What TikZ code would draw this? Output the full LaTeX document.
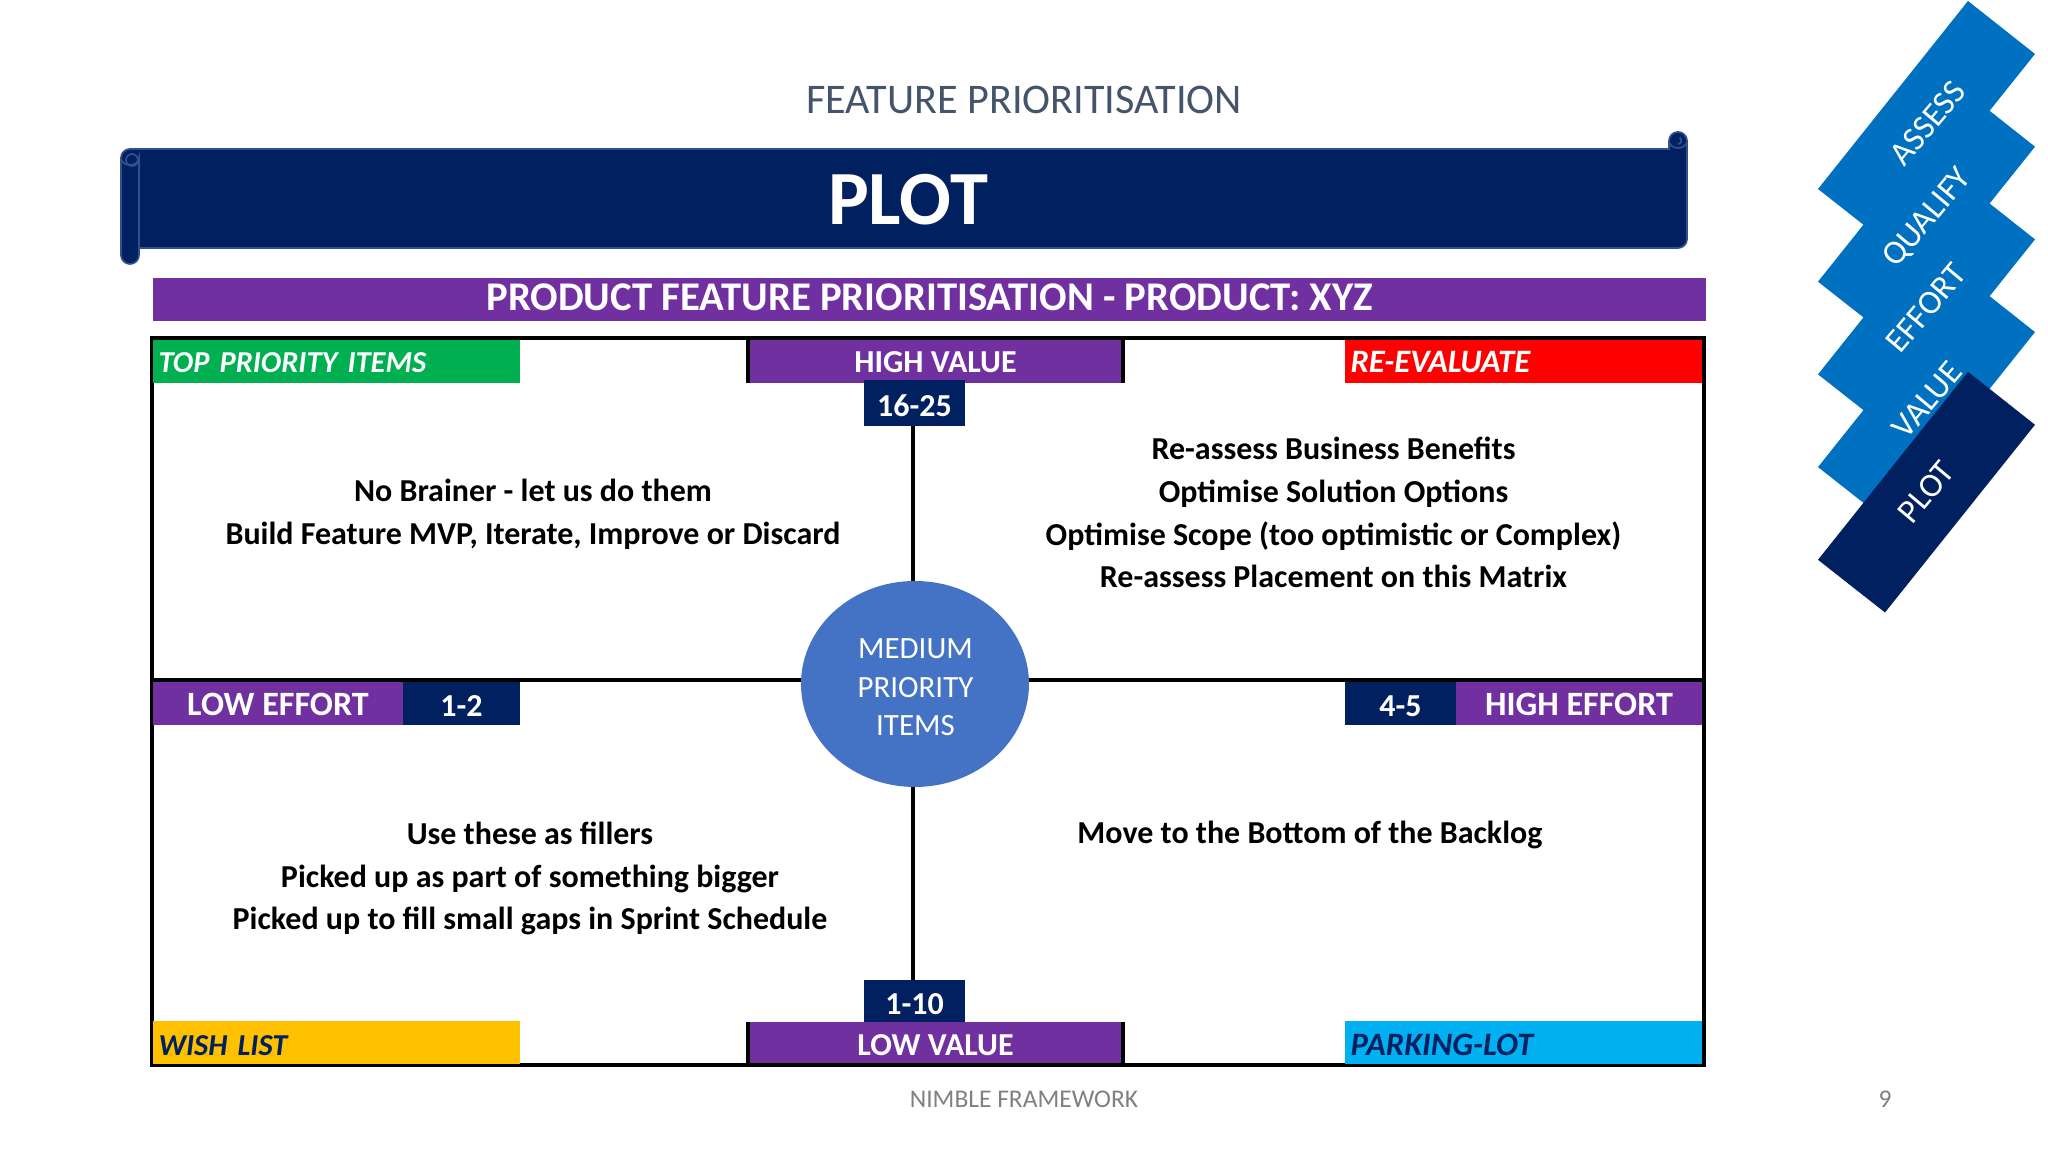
\documentclass[tikz,border=0pt]{standalone}
\usepackage{fontspec}
\setmainfont{Carlito}
\usetikzlibrary{shapes.geometric}
\pgfdeclarelayer{nodelayer}
\pgfdeclarelayer{edgelayer}
\pgfsetlayers{edgelayer,nodelayer,main}
\definecolor{navy}{HTML}{002060}
\definecolor{scrollline}{HTML}{2F528F}
\definecolor{plum}{HTML}{7030A0}
\definecolor{leaf}{HTML}{00B050}
\definecolor{gold}{HTML}{FFC000}
\definecolor{sky}{HTML}{00B0F0}
\definecolor{steel}{HTML}{0070C0}
\definecolor{slate}{HTML}{44546A}
\definecolor{disc}{HTML}{4472C4}
\tikzstyle{box}=[shape=rectangle, inner sep=0pt, outer sep=0pt, text=white, font=\fontsize{9.1}{11}\selectfont\bfseries, text height=7pt, text depth=0pt]
\tikzstyle{purple box}=[style=box, fill=plum]
\tikzstyle{navy box}=[style=box, fill=navy]
\tikzstyle{corner tag}=[style=box, font=\fontsize{9.3}{11}\selectfont\bfseries\itshape, align=left, inner xsep=0.055cm, text width=3.56cm, minimum height=0.43cm]
\tikzstyle{left tag}=[style=corner tag, font=\fontsize{8.65}{11}\selectfont\bfseries\itshape]
\tikzstyle{body text}=[align=center, text=black, font=\fontsize{9.1}{12.2pt}\selectfont\bfseries]
\tikzstyle{frame}=[draw=black, line width=1.2pt, shape=rectangle, inner sep=0pt, minimum width=15.52cm, minimum height=7.27cm]
\tikzstyle{none}=[fill=none, draw=none, shape=circle, scale=0]
\tikzstyle{disc node}=[fill=disc, draw=none, shape=ellipse, inner sep=0pt, minimum width=2.28cm, minimum height=2.06cm]
\tikzstyle{disc text}=[align=center, text=white, font=\fontsize{8.8}{10.96pt}\selectfont]
\tikzstyle{axis edge}=[draw=black, line width=1.2pt]
\tikzstyle{scroll edge}=[draw=scrollline, line width=0.5pt]
\tikzstyle{stair text}=[text=white, rotate=50, font=\fontsize{9.6}{12}\selectfont]
\begin{document}
\begin{tikzpicture}
	\useasboundingbox (0, 0) rectangle (20.48, 11.52);
	\begin{pgfonlayer}{nodelayer}
		\node [style=frame] (0) at (9.28, 4.505) {};
		\node [font=\fontsize{12}{14}\selectfont, text=slate] (1) at (10.24, 10.52) {FEATURE PRIORITISATION};
		\node [style=purple box, minimum width=15.53cm, minimum height=0.43cm, font=\fontsize{11.6}{14}\selectfont\bfseries, text height=6.4pt] (2) at (9.295, 8.525) {PRODUCT FEATURE PRIORITISATION - PRODUCT: XYZ};
		\node [style=left tag, fill=leaf, text height=6.2pt] (3) at (3.365, 7.905) {TOP PRIORITY ITEMS};
		\node [style=corner tag, fill=red, text width=3.46cm, text height=6.2pt] (4) at (15.235, 7.905) {RE-EVALUATE};
		\node [style=purple box, minimum width=3.71cm, minimum height=0.43cm, text height=6.2pt] (5) at (9.355, 7.905) {HIGH VALUE};
		\node [style=navy box, minimum width=1.01cm, minimum height=0.46cm, text height=7.5pt] (6) at (9.145, 7.49) {16-25};
		\node [style=purple box, minimum width=2.5cm, minimum height=0.43cm, font=\fontsize{9.7}{11}\selectfont\bfseries] (7) at (2.78, 4.485) {LOW EFFORT};
		\node [style=navy box, minimum width=1.17cm, minimum height=0.43cm, text height=7.4pt] (8) at (4.615, 4.485) {1-2};
		\node [style=navy box, minimum width=1.11cm, minimum height=0.43cm, text height=7.4pt] (9) at (14.005, 4.485) {4-5};
		\node [style=purple box, minimum width=2.46cm, minimum height=0.43cm, font=\fontsize{9.7}{11}\selectfont\bfseries] (10) at (15.79, 4.485) {HIGH EFFORT};
		\node [style=navy box, minimum width=1.01cm, minimum height=0.42cm, text height=7.5pt] (11) at (9.145, 1.51) {1-10};
		\node [style=purple box, minimum width=3.71cm, minimum height=0.41cm, text height=7.5pt] (12) at (9.355, 1.095) {LOW VALUE};
		\node [style=left tag, fill=gold, text=navy, text height=7.5pt] (13) at (3.365, 1.095) {WISH LIST};
		\node [style=corner tag, fill=sky, text=navy, text width=3.46cm, text height=7.5pt] (14) at (15.235, 1.095) {PARKING-LOT};
		\node [style=disc node] (15) at (9.15, 4.68) {};
		\node [style=disc text] (41) at (9.155, 4.645) {MEDIUM\\PRIORITY\\ITEMS};
		\node [style=body text] (16) at (5.33, 6.375) {No Brainer - let us do them\\Build Feature MVP, Iterate, Improve or Discard};
		\node [style=body text] (17) at (13.335, 6.395) {Re-assess Business Benefits\\Optimise Solution Options\\Optimise Scope (too optimistic or Complex)\\Re-assess Placement on this Matrix};
		\node [style=body text] (18) at (5.3, 2.735) {Use these as fillers\\Picked up as part of something bigger\\Picked up to fill small gaps in Sprint Schedule};
		\node [style=body text] (19) at (13.1, 3.165) {Move to the Bottom of the Backlog};
		\node [font=\fontsize{7.25}{9}\selectfont, text=gray] (20) at (10.24, 0.53) {NIMBLE FRAMEWORK};
		\node [font=\fontsize{7.25}{9}\selectfont, text=gray] (21) at (18.85, 0.53) {9};
		\node [style=none] (22) at (1.52, 4.72) {};
		\node [style=none] (23) at (17.04, 4.72) {};
		\node [style=none] (24) at (7.48, 8.12) {};
		\node [style=none] (25) at (7.48, 7.69) {};
		\node [style=none] (26) at (11.23, 8.12) {};
		\node [style=none] (27) at (11.23, 7.69) {};
		\node [style=none] (28) at (7.48, 1.3) {};
		\node [style=none] (29) at (7.48, 0.89) {};
		\node [style=none] (30) at (11.23, 1.3) {};
		\node [style=none] (31) at (11.23, 0.89) {};
		\node [style=stair text] (32) at (19.28, 10.29) {ASSESS};
		\node [style=stair text] (33) at (19.28, 9.34) {QUALIFY};
		\node [style=stair text] (34) at (19.26, 8.44) {EFFORT};
		\node [style=stair text] (35) at (19.27, 7.52) {VALUE};
		\node [style=none] (38) at (9.13, 7.3) {};
		\node [style=none] (39) at (9.13, 1.6) {};
		\node [style=none] (40) at (9.13, 4.72) {};
	\end{pgfonlayer}
	\begin{pgfonlayer}{edgelayer}
		\fill [steel] (19.68, 11.51) -- (20.35, 10.98) -- (18.85, 9.103) -- (18.18, 9.63) -- cycle;
		\fill [steel] (19.68, 10.583) -- (20.35, 10.053) -- (18.85, 8.176) -- (18.18, 8.703) -- cycle;
		\fill [steel] (19.68, 9.656) -- (20.35, 9.126) -- (18.85, 7.249) -- (18.18, 7.776) -- cycle;
		\fill [steel] (19.68, 8.729) -- (20.35, 8.199) -- (18.85, 6.322) -- (18.18, 6.849) -- cycle;
		\filldraw [style=scroll edge, fill=navy] (1.21, 9.94) arc (180:90:0.09) -- (16.69, 10.03) -- (16.69, 10.11) arc (180:0:0.09) -- (16.87, 9.13) arc (0:-90:0.09) -- (1.39, 9.04) -- (1.39, 8.97) arc (0:-180:0.09) -- cycle;
		\draw [style=scroll edge] (1.39, 9.04) -- (1.39, 9.94) arc (0:-180:0.09 and 0.07);
		\draw [style=scroll edge] (1.32, 9.92) circle (0.06);
		\draw [style=scroll edge] (16.69, 10.11) arc (-180:0:0.09 and 0.07);
		\draw [style=scroll edge] (16.78, 10.08) arc (-90:60:0.035);
		\node [font=\fontsize{21.8}{24}\selectfont\bfseries, text=white] (36) at (9.08, 9.52) {PLOT};
		\draw [style=axis edge] (22.center) to (40.center);
		\draw [style=axis edge] (40.center) to (23.center);
		\draw [style=axis edge] (38.center) to (39.center);
		\draw [style=axis edge] (24.center) to (25.center);
		\draw [style=axis edge] (26.center) to (27.center);
		\draw [style=axis edge] (28.center) to (29.center);
		\draw [style=axis edge] (30.center) to (31.center);
	\end{pgfonlayer}
	\fill [navy] (19.68, 7.802) -- (20.35, 7.272) -- (18.85, 5.395) -- (18.18, 5.922) -- cycle;
	\node [style=stair text] (37) at (19.26, 6.6) {PLOT};
\end{tikzpicture}
\end{document}
